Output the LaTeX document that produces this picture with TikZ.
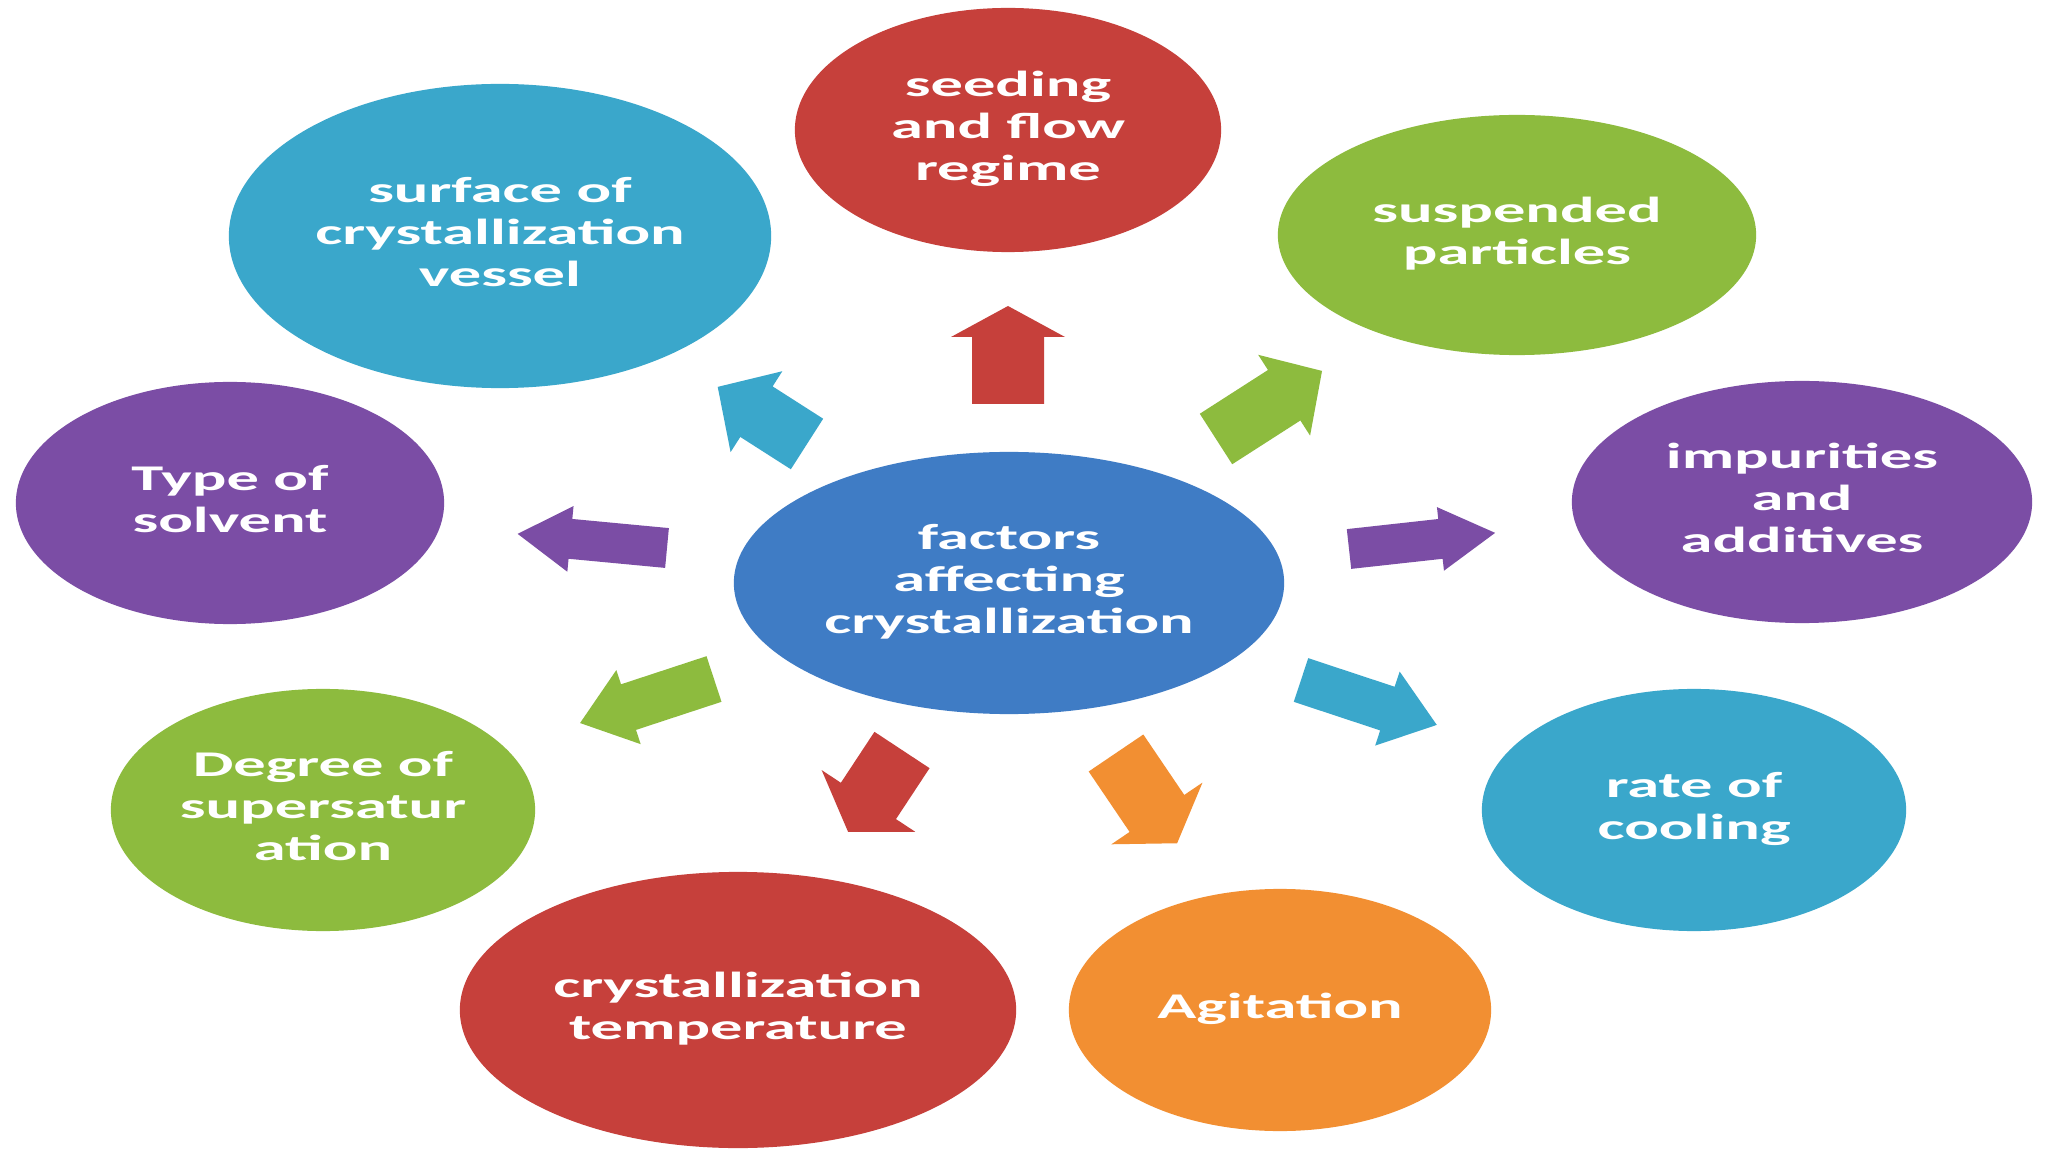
\documentclass[tikz,border=0pt]{standalone}
\usepackage{fontspec}
\usepackage{graphicx}
\setmainfont{Carlito}
\usetikzlibrary{shapes.geometric}
\definecolor{cblue}{HTML}{3F7CC5}
\definecolor{cred}{HTML}{C6403B}
\definecolor{cteal}{HTML}{3AA7CB}
\definecolor{cgreen}{HTML}{8DBB3E}
\definecolor{cpurple}{HTML}{7B4DA5}
\definecolor{corange}{HTML}{F28F32}
\newcommand\bt[1]{\scalebox{1.78}[1]{\begin{tabular}{@{}c@{}}#1\end{tabular}}}
\newcommand\fatarrow[8]{\fill[#1, shift={(#2,#3)}, rotate=#4] (0,-#6) -- ({#5-#8},-#6) -- ({#5-#8},-#7) -- (#5,0) -- ({#5-#8},#7) -- ({#5-#8},#6) -- (0,#6) -- cycle;}
\tikzset{
  bub/.style={ellipse, inner sep=0pt, text=white, font=\fontsize{10.3pt}{12pt}\selectfont\bfseries},
}
\begin{document}
\begin{tikzpicture}[x=0.01cm, y=-0.01cm]
\useasboundingbox (0,0) rectangle (2048,1152);
\fill[white] (0,0) rectangle (2048,1152);

\node[bub, fill=cblue, minimum width=5.50cm, minimum height=2.62cm] (c) at (1009,583) {\bt{factors\\affecting\\crystallization}};
\node[bub, fill=cred, minimum width=4.26cm, minimum height=2.44cm] (n) at (1008,130) {\bt{seeding\\and flow\\regime}};
\node[bub, fill=cteal, minimum width=5.42cm, minimum height=3.04cm] (nw) at (500,236) {\bt{surface of\\crystallization\\vessel}};
\node[bub, fill=cgreen, minimum width=4.78cm, minimum height=2.40cm] (ne) at (1517,235) {\bt{suspended\\particles}};
\node[bub, fill=cpurple, minimum width=4.28cm, minimum height=2.42cm] (w) at (230,503) {\bt{Type of\\solvent}};
\node[bub, fill=cpurple, minimum width=4.60cm, minimum height=2.42cm] (e) at (1802,502) {\bt{impurities\\and\\additives}};
\node[bub, fill=cgreen, minimum width=4.24cm, minimum height=2.42cm] (sw) at (323,810) {\bt{Degree of\\supersatur\\ation}};
\node[bub, fill=cteal, minimum width=4.24cm, minimum height=2.42cm] (se) at (1694,810) {\bt{rate of\\cooling}};
\node[bub, fill=cred, minimum width=5.56cm, minimum height=2.76cm] (s1) at (738,1010) {\bt{crystallization\\temperature}};
\node[bub, fill=corange, minimum width=4.22cm, minimum height=2.42cm] (s2) at (1280,1010) {\bt{Agitation}};

\fatarrow{cred}{1008}{404}{90}{98}{36}{57}{31}
\fatarrow{cgreen}{1216}{439}{32.7}{126}{30}{48}{45}
\fatarrow{cteal}{807}{444}{147.4}{106}{30}{48}{46}
\fatarrow{cpurple}{667}{548}{174.6}{150}{20}{33}{53}
\fatarrow{cpurple}{1349}{549}{6.3}{147}{20}{32}{55}
\fatarrow{cgreen}{714}{679}{198.2}{141}{24}{39}{51}
\fatarrow{cteal}{1301}{680}{-18.3}{143}{23}{39}{52}
\fatarrow{cred}{902}{750}{236.6}{98}{33}{56}{37}
\fatarrow{corange}{1116}{753}{-55.9}{109}{33}{55}{36}
\end{tikzpicture}
\end{document}
